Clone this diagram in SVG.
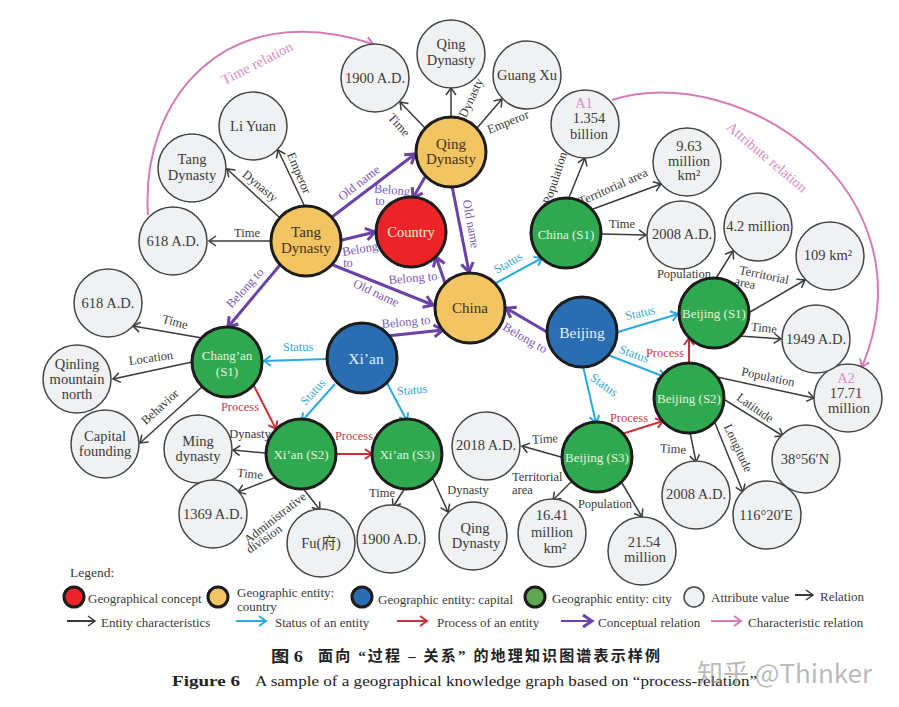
<svg xmlns="http://www.w3.org/2000/svg" width="899" height="707" viewBox="0 0 899 707">
<style>
text{font-family:"Liberation Serif","Noto Sans CJK SC",serif;text-anchor:middle;dominant-baseline:central}
.a circle{fill:#f0f1f3;stroke:#444;stroke-width:1.5}
.a text{font-size:14.5px;fill:#3a3a3a}
.c circle,.k circle,.g circle,.b circle,.r circle{stroke:#1c1c1c;stroke-width:3}
.c circle{fill:#f2c462}.c text{font-size:15px;fill:#3f3320}
.r circle{fill:#ec2427}.r text{font-size:14.5px;fill:#fbe6dc}
.b circle{fill:#2a6db0}.b text{font-size:15.5px;fill:#e6f0f8}
.g circle{fill:#2fa84f}.g text{font-size:13px;fill:#e4f4dc}
.e{fill:none;stroke-width:1.5;stroke:#3a3a3a;marker-end:url(#mk)}
.s{fill:none;stroke-width:2;stroke:#2aaae0;marker-end:url(#ms)}
.p{fill:none;stroke-width:2;stroke:#c8323c;marker-end:url(#mp)}
.v{fill:none;stroke-width:3;stroke:#6a42a8;marker-end:url(#mv)}
.h{fill:none;stroke-width:2;stroke:#d77ab8;marker-end:url(#mh)}
.l text{font-size:12.5px}
.lk{fill:#3a3a3a}.ls{fill:#38a8d8}.lp{fill:#c8404a}.lv{fill:#7a58b8}.lh{fill:#dc8cc0}
.lg text{font-size:13px;fill:#3a3a3a;text-anchor:start}
.lg circle{stroke:#1c1c1c;stroke-width:3}
</style>
<defs>
<marker id="mk" markerUnits="userSpaceOnUse" markerWidth="14" markerHeight="14" refX="11" refY="7" orient="auto"><path d="M4,2 L11,7 L4,12" fill="none" stroke="#3a3a3a" stroke-width="1.5"/></marker>
<marker id="ms" markerUnits="userSpaceOnUse" markerWidth="14" markerHeight="14" refX="11" refY="7" orient="auto"><path d="M4,2 L11,7 L4,12" fill="none" stroke="#2aaae0" stroke-width="2"/></marker>
<marker id="mp" markerUnits="userSpaceOnUse" markerWidth="14" markerHeight="14" refX="11" refY="7" orient="auto"><path d="M4,2 L11,7 L4,12" fill="none" stroke="#c8323c" stroke-width="2"/></marker>
<marker id="mv" markerUnits="userSpaceOnUse" markerWidth="16" markerHeight="16" refX="13" refY="8" orient="auto"><path d="M4,2 L13,8 L4,14" fill="none" stroke="#6a42a8" stroke-width="3"/></marker>
<marker id="mh" markerUnits="userSpaceOnUse" markerWidth="14" markerHeight="14" refX="11" refY="7" orient="auto"><path d="M4,2 L11,7 L4,12" fill="none" stroke="#d77ab8" stroke-width="2"/></marker>
</defs>
<rect width="899" height="707" fill="#fff"/>
<g id="connectors">
<path class="h" d="M148,215 C140,100 225,-5 373,44"/>
<path class="h" d="M612,100 C740,60 935,190 862,367"/>
<path class="e" d="M305,207 L278,150"/><path class="e" d="M279,217 L227,169"/><path class="e" d="M270,241 L209,241"/>
<path class="e" d="M425,128 L400,102"/><path class="e" d="M451,119 L451,88"/><path class="e" d="M477,128 L502,99"/>
<path class="e" d="M568,200 L585,158"/><path class="e" d="M593,209 L661,184"/><path class="e" d="M602,234 L646,235"/>
<path class="e" d="M715,280 L733,251"/><path class="e" d="M750,312 L805,280"/><path class="e" d="M740,336 L781,339"/>
<path class="e" d="M717,377 L814,398"/><path class="e" d="M725,400 L783,436"/><path class="e" d="M715,423 L743,492"/><path class="e" d="M690,432 L696,462"/>
<path class="e" d="M561,457 L522,446"/><path class="e" d="M571,482 L553,500"/><path class="e" d="M622,483 L642,517"/>
<path class="e" d="M202,338 L133,326"/><path class="e" d="M192,362 L113,379"/><path class="e" d="M202,387 L140,443"/>
<path class="e" d="M265,453 L233,450"/><path class="e" d="M274,478 L238,492"/><path class="e" d="M302,487 L320,510"/>
<path class="e" d="M405,488 L393,507"/><path class="e" d="M433,479 L448,512"/>
<path class="v" d="M332,217 L415,154"/><path class="v" d="M342,240 L375,232"/><path class="v" d="M333,265 L433,305"/><path class="v" d="M280,265 L228,327"/>
<path class="v" d="M425,177 L413,198"/><path class="v" d="M452,186 L469,272"/><path class="v" d="M445,283 L436,257"/>
<path class="v" d="M387,336 L443,330"/><path class="v" d="M547,332 L506,308"/>
<path class="s" d="M496,283 L542,258"/><path class="s" d="M618,332 L678,314"/><path class="s" d="M608,355 L665,377"/><path class="s" d="M583,366 L596,423"/>
<path class="s" d="M327,359 L264,361"/><path class="s" d="M335,384 L302,421"/><path class="s" d="M387,383 L407,421"/>
<path class="p" d="M689,367 L689,338"/><path class="p" d="M622,434 L663,421"/><path class="p" d="M254,386 L276,429"/><path class="p" d="M336,454 L372,454"/>
</g>
<g id="edge-labels" class="l">
<text class="lh" style="font-size:14.5px" transform="translate(257,63) rotate(-27)">Time relation</text>
<text class="lh" style="font-size:14.5px" transform="translate(767,157) rotate(40)">Attribute relation</text>
<text class="lk" transform="translate(299,173) rotate(67)">Emperor</text>
<text class="lk" transform="translate(260,186) rotate(40)">Dynasty</text>
<text class="lk" x="247" y="233">Time</text>
<text class="lv" transform="translate(359,183) rotate(-38)">Old name</text>
<text class="lv" transform="translate(392,190) rotate(5)">Belong</text>
<text class="lv" x="380" y="201">to</text>
<text class="lv" transform="translate(360,249) rotate(-10)">Belong</text>
<text class="lv" x="348" y="263">to</text>
<text class="lv" transform="translate(413,278) rotate(-5)">Belong to</text>
<text class="lv" transform="translate(376,293) rotate(25)">Old name</text>
<text class="lv" transform="translate(471,224) rotate(80)">Old name</text>
<text class="lv" transform="translate(245,288) rotate(-48)">Belong to</text>
<text class="lk" transform="translate(399,125) rotate(48)">Time</text>
<text class="lk" transform="translate(471,98) rotate(-65)">Dynasty</text>
<text class="lk" transform="translate(508,122) rotate(-22)">Emperor</text>
<text class="ls" transform="translate(508,263) rotate(-30)">Status</text>
<text class="lk" transform="translate(555,178) rotate(-72)">Population</text>
<text class="lk" transform="translate(613,187) rotate(-24)">Territorial area</text>
<text class="lk" x="622" y="224">Time</text>
<text class="lk" x="684" y="274">Population</text>
<text class="lk" transform="translate(764,275) rotate(12)">Territorial</text>
<text class="lk" transform="translate(745,283) rotate(12)">area</text>
<text class="lk" transform="translate(764,328) rotate(5)">Time</text>
<text class="ls" transform="translate(640,313) rotate(-12)">Status</text>
<text class="ls" transform="translate(634,354) rotate(20)">Status</text>
<text class="lp" x="665" y="353">Process</text>
<text class="lv" transform="translate(525,338) rotate(30)">Belong to</text>
<text class="ls" transform="translate(604,385) rotate(35)">Status</text>
<text class="lp" x="629" y="418">Process</text>
<text class="lk" transform="translate(768,377) rotate(12)">Population</text>
<text class="lk" transform="translate(755,408) rotate(35)">Latitude</text>
<text class="lk" transform="translate(738,448) rotate(65)">Longitude</text>
<text class="lk" transform="translate(673,449) rotate(3)">Time</text>
<text class="lk" transform="translate(545,439) rotate(-3)">Time</text>
<text class="lk" style="text-anchor:start" x="512" y="477">Territorial</text>
<text class="lk" style="text-anchor:start" x="512" y="490">area</text>
<text class="lk" x="605" y="504">Population</text>
<text class="lk" x="468" y="490">Dynasty</text>
<text class="lk" transform="translate(175,322) rotate(15)">Time</text>
<text class="lk" transform="translate(151,358) rotate(-8)">Location</text>
<text class="lk" transform="translate(160,407) rotate(-42)">Behavior</text>
<text class="ls" x="298" y="347">Status</text>
<text class="ls" transform="translate(313,392) rotate(-48)">Status</text>
<text class="ls" transform="translate(412,390) rotate(-5)">Status</text>
<text class="lp" x="240" y="407">Process</text>
<text class="lp" x="354" y="436">Process</text>
<text class="lk" x="250" y="434">Dynasty</text>
<text class="lk" transform="translate(250,474) rotate(5)">Time</text>
<text class="lk" transform="translate(275,518) rotate(-38)">Administrative</text>
<text class="lk" transform="translate(264,539) rotate(-35)">division</text>
<text class="lk" x="382" y="493">Time</text>
<text class="lv" transform="translate(406,322) rotate(-5)">Belong to</text>
</g>
<g id="n-tang" class="c"><circle cx="306" cy="241" r="35"/><text x="306" y="232">Tang</text><text x="306" y="248">Dynasty</text></g>
<g id="n-qing" class="c"><circle cx="451" cy="152" r="35"/><text x="451" y="144">Qing</text><text x="451" y="159">Dynasty</text></g>
<g id="n-country" class="r"><circle cx="411" cy="232" r="35"/><text x="411" y="232">Country</text></g>
<g id="n-china" class="c"><circle cx="470" cy="308" r="35"/><text x="470" y="308">China</text></g>
<g id="n-beijing" class="b"><circle cx="582" cy="332" r="35"/><text x="582" y="332">Beijing</text></g>
<g id="n-xian" class="b"><circle cx="362" cy="358" r="35"/><text x="366" y="358">Xi’an</text></g>
<g id="n-chinas1" class="g"><circle cx="566" cy="233" r="35"/><text x="566" y="234">China (S1)</text></g>
<g id="n-bjs1" class="g"><circle cx="714" cy="313" r="35"/><text x="714" y="313">Beijing (S1)</text></g>
<g id="n-bjs2" class="g"><circle cx="689" cy="398" r="35"/><text x="689" y="398">Beijing (S2)</text></g>
<g id="n-bjs3" class="g"><circle cx="597" cy="457" r="35"/><text x="597" y="457">Beijing (S3)</text></g>
<g id="n-changan" class="g"><circle cx="227" cy="362" r="35"/><text x="227" y="355">Chang’an</text><text x="227" y="371">(S1)</text></g>
<g id="n-xas2" class="g"><circle cx="301" cy="454" r="35"/><text x="301" y="454">Xi’an (S2)</text></g>
<g id="n-xas3" class="g"><circle cx="407" cy="454" r="35"/><text x="407" y="454">Xi’an (S3)</text></g>
<g id="a-1900t" class="a"><circle cx="375" cy="78" r="34"/><text x="375" y="78">1900 A.D.</text></g>
<g id="a-qing" class="a"><circle cx="451" cy="54" r="34"/><text x="451" y="44">Qing</text><text x="451" y="60">Dynasty</text></g>
<g id="a-guang" class="a"><circle cx="527" cy="75" r="34"/><text x="527" y="75">Guang Xu</text></g>
<g id="a-liyuan" class="a"><circle cx="253" cy="126" r="34"/><text x="253" y="126">Li Yuan</text></g>
<g id="a-tang" class="a"><circle cx="192" cy="168" r="34"/><text x="192" y="159">Tang</text><text x="192" y="175">Dynasty</text></g>
<g id="a-618t" class="a"><circle cx="173" cy="241" r="34"/><text x="173" y="241">618 A.D.</text></g>
<g id="a-618l" class="a"><circle cx="108" cy="303" r="34"/><text x="108" y="303">618 A.D.</text></g>
<g id="a-qinling" class="a"><circle cx="77" cy="379" r="34"/><text x="77" y="364">Qinling</text><text x="77" y="379">mountain</text><text x="77" y="394">north</text></g>
<g id="a-capital" class="a"><circle cx="105" cy="444" r="34"/><text x="105" y="436">Capital</text><text x="105" y="451">founding</text></g>
<g id="a-ming" class="a"><circle cx="198" cy="449" r="34"/><text x="198" y="441">Ming</text><text x="198" y="456">dynasty</text></g>
<g id="a-1369" class="a"><circle cx="213" cy="514" r="34"/><text x="213" y="514">1369 A.D.</text></g>
<g id="a-fu" class="a"><circle cx="321" cy="543" r="34"/><text x="321" y="543">Fu(府)</text></g>
<g id="a-1900b" class="a"><circle cx="391" cy="539" r="34"/><text x="391" y="539">1900 A.D.</text></g>
<g id="a-qingb" class="a"><circle cx="473" cy="536" r="34"/><text x="475" y="528">Qing</text><text x="476" y="543">Dynasty</text></g>
<g id="a-2018" class="a"><circle cx="486" cy="446" r="34"/><text x="486" y="445">2018 A.D.</text></g>
<g id="a-1641" class="a"><circle cx="552" cy="533" r="34"/><text x="552" y="515">16.41</text><text x="552" y="532">million</text><text x="555" y="548">km²</text></g>
<g id="a-2154" class="a"><circle cx="642" cy="551" r="34"/><text x="644" y="542">21.54</text><text x="645" y="557">million</text></g>
<g id="a-2008b" class="a"><circle cx="696" cy="495" r="34"/><text x="696" y="494">2008 A.D.</text></g>
<g id="a-116" class="a"><circle cx="767" cy="515" r="34"/><text x="766" y="515">116°20′E</text></g>
<g id="a-38" class="a"><circle cx="806" cy="459" r="34"/><text x="805" y="459">38°56′N</text></g>
<g id="a-a2" class="a"><circle cx="848" cy="398" r="34"/><text style="fill:#dc8cc0" x="846" y="378">A2</text><text x="846" y="393">17.71</text><text x="849" y="408">million</text></g>
<g id="a-1949" class="a"><circle cx="816" cy="339" r="34"/><text x="816" y="339">1949 A.D.</text></g>
<g id="a-109" class="a"><circle cx="830" cy="256" r="34"/><text x="828" y="255">109 km²</text></g>
<g id="a-42" class="a"><circle cx="758" cy="227" r="34"/><text x="758" y="226">4.2 million</text></g>
<g id="a-2008t" class="a"><circle cx="681" cy="235" r="34"/><text x="682" y="234">2008 A.D.</text></g>
<g id="a-963" class="a"><circle cx="687" cy="162" r="34"/><text x="689" y="146">9.63</text><text x="689" y="160.500">million</text><text x="689" y="175">km²</text></g>
<g id="a-a1" class="a"><circle cx="585" cy="124" r="34"/><text style="fill:#dc8cc0" x="584" y="103">A1</text><text x="589" y="118">1.354</text><text x="589" y="134">billion</text></g>
<g id="legend" class="lg">
<text x="70" y="572" style="font-size:13.5px">Legend:</text>
<circle cx="74" cy="597" r="10" fill="#ec2427"/><text x="88" y="598">Geographical concept</text>
<circle cx="218" cy="597" r="10" fill="#f2c462"/><text x="237" y="592">Geographic entity:</text><text x="237" y="606">country</text>
<circle cx="362" cy="597" r="10" fill="#2a6db0"/><text x="378" y="599">Geographic entity: capital</text>
<circle cx="535" cy="597" r="10" fill="#5fa84f"/><text x="552" y="598">Geographic entity: city</text>
<circle cx="694" cy="597" r="10" fill="#f0f1f3" style="stroke:#444;stroke-width:1.5"/><text x="711" y="597">Attribute value</text>
<path class="e" style="stroke-width:2" d="M795,595 L813,595"/><text x="820" y="596">Relation</text>
<path class="e" style="stroke-width:2" d="M67,621 L95,621"/><text x="101" y="622">Entity characteristics</text>
<path class="s" d="M236,621 L266,621"/><text x="275" y="622">Status of an entity</text>
<path class="p" d="M397,621 L427,621"/><text x="437" y="622">Process of an entity</text>
<path class="v" style="stroke-width:2" d="M561,621 L592,621"/><text x="598" y="622">Conceptual relation</text>
<path class="h" d="M711,621 L741,621"/><text x="748" y="622">Characteristic relation</text>
</g>
<g id="caption">
<text x="271" y="656" style="text-anchor:start;font-size:16px;font-weight:bold;fill:#222" textLength="32" lengthAdjust="spacingAndGlyphs">图 6</text>
<text x="318" y="656" style="text-anchor:start;font-size:15px;font-weight:bold;fill:#222" textLength="342">面向 “过程 – 关系” 的地理知识图谱表示样例</text>
<text x="172" y="681" style="text-anchor:start;font-size:14px;font-weight:bold;fill:#222" textLength="68" lengthAdjust="spacingAndGlyphs">Figure 6</text>
<text x="255" y="681" style="text-anchor:start;font-size:14px;fill:#222" textLength="502" lengthAdjust="spacingAndGlyphs">A sample of a geographical knowledge graph based on “process-relation”</text>
<text x="697" y="671" style="text-anchor:start;font-size:26px;fill:#8a8a8a;fill-opacity:.6;font-family:'Noto Sans CJK SC','Noto Sans',sans-serif">知乎 @Thinker</text>
</g>
</svg>
